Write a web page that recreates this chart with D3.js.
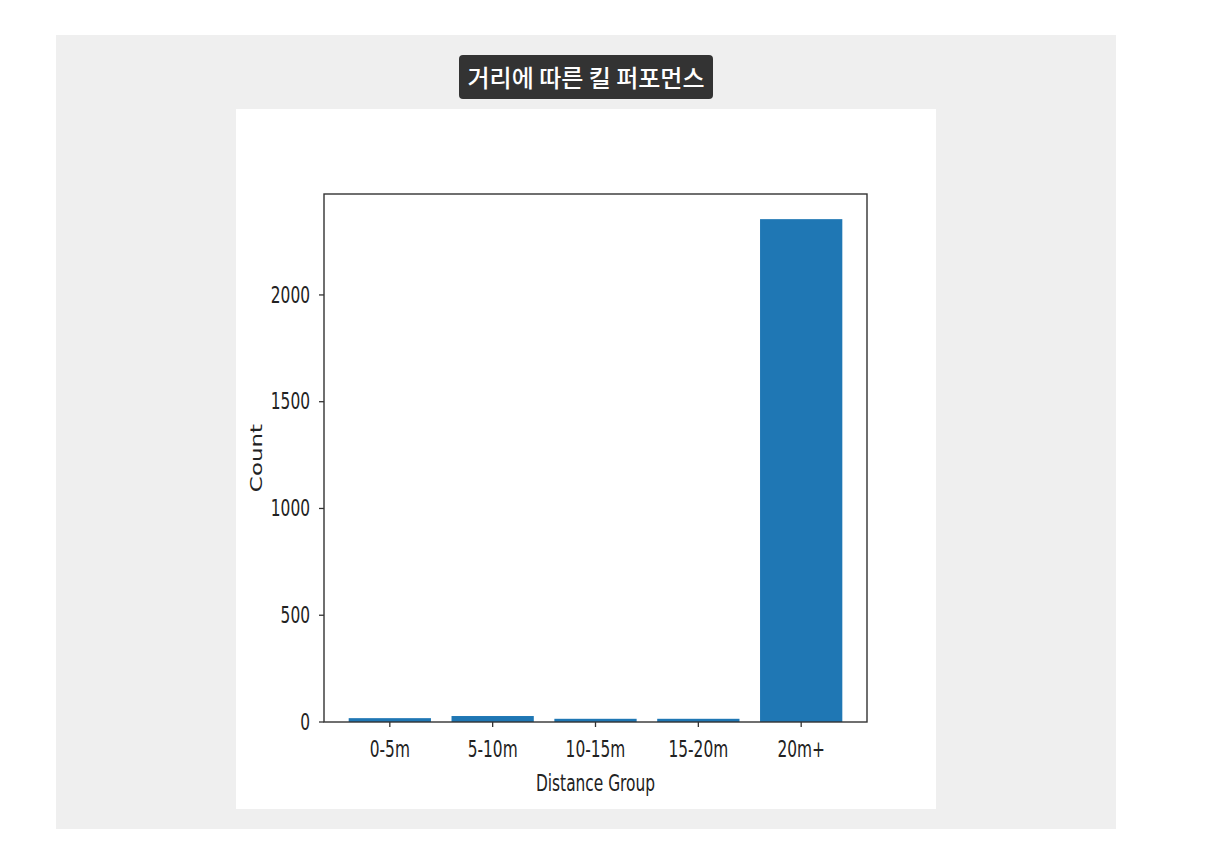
<!DOCTYPE html>
<html>
<head>
<meta charset="utf-8">
<script src="https://cdn.jsdelivr.net/npm/d3@7"></script>
<style>
  html, body { margin: 0; padding: 0; background: #fff; }
  svg { display: block; }
</style>
</head>
<body>
<svg id="chart" width="1207" height="864"></svg>
<script>
// data
const categories = ['0-5m', '5-10m', '10-15m', '15-20m', '20m+']
const counts = [18, 28, 15, 15, 2355]
const yTicks = [0, 500, 1000, 1500, 2000]

const title = '거리에 따른 킬 퍼포먼스'
const xLabel = 'Distance Group'
const yLabel = 'Count'

// the plot image looks squeezed horizontally, mimic that on the texts
const squeeze = 0.67
const tickFont = 23

const svg = d3.select('#chart')

// grey panel + white image area
svg.append('rect')
  .attr('x', 56).attr('y', 35)
  .attr('width', 1060).attr('height', 794)
  .attr('fill', '#efefef')

svg.append('rect')
  .attr('x', 236).attr('y', 109)
  .attr('width', 700).attr('height', 700)
  .attr('fill', '#fff')

// title badge
svg.append('rect')
  .attr('x', 459).attr('y', 55)
  .attr('width', 254).attr('height', 44)
  .attr('rx', 4)
  .attr('fill', '#333')

svg.append('text')
  .attr('x', 586).attr('y', 76)
  .attr('text-anchor', 'middle')
  .attr('dominant-baseline', 'central')
  .attr('fill', '#fff')
  .style('font-family', '"Noto Sans CJK KR", "Noto Sans", sans-serif')
  .style('font-weight', 500)
  .style('font-size', '24px')
  .text(title)

// plot area
const plot = {left: 324, right: 867, top: 194, bottom: 722}

let x = d3.scaleBand()
  .domain(categories)
  .range([plot.left, plot.right])
  .paddingInner(0.2)
  .paddingOuter(0.24)

let y = d3.scaleLinear()
  .domain([0, d3.max(counts) * 1.05])
  .range([plot.bottom, plot.top])

const g = svg.append('g')

// bars
g.selectAll('.bar')
  .data(counts)
  .enter().append('rect')
  .classed('bar', true)
  .attr('x', (d, i) => x(categories[i]))
  .attr('y', (d) => y(d))
  .attr('width', x.bandwidth())
  .attr('height', (d) => y(0) - y(d))
  .attr('fill', '#1f77b4')

// frame
g.append('rect')
  .attr('x', plot.left).attr('y', plot.top)
  .attr('width', plot.right - plot.left)
  .attr('height', plot.bottom - plot.top)
  .attr('fill', 'none')
  .attr('stroke', '#333')
  .attr('stroke-width', 1.4)

const squeezed = (sel, px, py, rot = 0) =>
  sel.attr('transform', `translate(${px},${py}) scale(${squeeze},1)` + (rot ? ` rotate(${rot})` : ''))

// y ticks
yTicks.forEach((t) => {
  g.append('line')
    .attr('x1', plot.left - 5).attr('x2', plot.left)
    .attr('y1', y(t)).attr('y2', y(t))
    .attr('stroke', '#333').attr('stroke-width', 1.3)
  g.append('text')
    .attr('text-anchor', 'end')
    .attr('dominant-baseline', 'central')
    .attr('fill', '#222')
    .style('font-family', '"DejaVu Sans", sans-serif')
    .style('font-size', `${tickFont}px`)
    .text(t)
    .call(squeezed, plot.left - 14, y(t))
})

// x ticks
categories.forEach((c) => {
  let cx = x(c) + x.bandwidth() / 2
  g.append('line')
    .attr('x1', cx).attr('x2', cx)
    .attr('y1', plot.bottom).attr('y2', plot.bottom + 5)
    .attr('stroke', '#333').attr('stroke-width', 1.3)
  g.append('text')
    .attr('text-anchor', 'middle')
    .attr('fill', '#222')
    .style('font-family', '"DejaVu Sans", sans-serif')
    .style('font-size', `${tickFont}px`)
    .text(c)
    .call(squeezed, cx, plot.bottom + 35)
})

// axis labels
g.append('text')
  .attr('text-anchor', 'middle')
  .attr('fill', '#222')
  .style('font-family', '"DejaVu Sans", sans-serif')
  .style('font-size', `${tickFont}px`)
  .text(xLabel)
  .call(squeezed, (plot.left + plot.right) / 2, plot.bottom + 69)

g.append('text')
  .attr('text-anchor', 'middle')
  .attr('fill', '#222')
  .style('font-family', '"DejaVu Sans", sans-serif')
  .style('font-size', `${tickFont}px`)
  .text(yLabel)
  .call(squeezed, 262, (plot.top + plot.bottom) / 2, -90)
</script>
</body>
</html>
